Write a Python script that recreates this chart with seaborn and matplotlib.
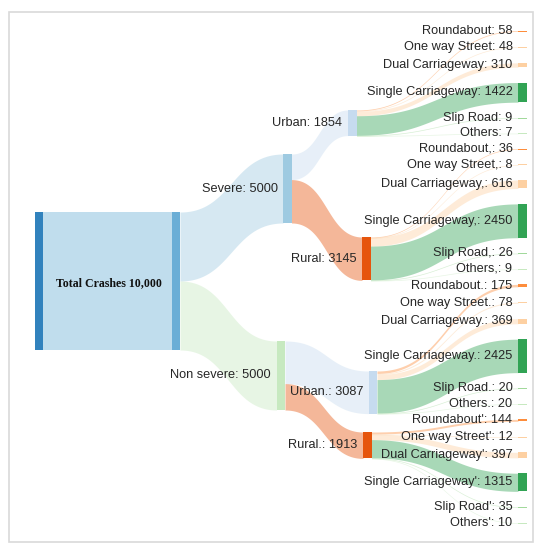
import numpy as np
import matplotlib
matplotlib.use("Agg")
import matplotlib.pyplot as plt
import seaborn as sns

# ---- data ----
total_label = "Total Crashes 10,000"
total_crashes = 10000

severity = ["Severe", "Non severe"]
severity_counts = [5000, 5000]

areas = ["Urban", "Rural", "Urban.", "Rural."]
area_parent = ["Severe", "Severe", "Non severe", "Non severe"]
area_counts = [1854, 3145, 3087, 1913]

road_types = ["Roundabout", "One way Street", "Dual Carriageway",
              "Single Carriageway", "Slip Road", "Others"]
road_suffix = ["", ",", ".", "'"]   # one per area, as in the source labels
road_counts = [
    [58, 48, 310, 1422, 9, 7],
    [36, 8, 616, 2450, 26, 9],
    [175, 78, 369, 2425, 20, 20],
    [144, 12, 397, 1315, 35, 10],
]

# ---- layout / style ----
px_per_crash = 138 / total_crashes
node_w = 8.5
total_x, hub_x, col_top = 34.5, 171.5, 212
severity_x = [283, 276.5]
severity_top = [154, 341]
area_x = [348, 362, 368.5, 363]
area_top = [110, 237, 371, 432]
leaf_x, leaf_start, leaf_gap = 518, 30.6, 15.4

pal = sns.color_palette(["#3182bd", "#6baed6", "#9ecae1", "#c7e9c0",
                         "#c6dbef", "#e6550d"])
road_colors = ["#fd8d3c", "#fdd0a2", "#fdd0a2", "#31a354", "#a1d99b", "#c7e9c0"]
link_alpha = 0.42
text_color = "#262626"

sns.set_theme(style="white")
plt.rcParams["font.family"] = ["Liberation Sans", "DejaVu Sans"]

# nodes: name -> dict(x, top, h, color)
nodes = {}
nodes["__total"] = dict(x=total_x, top=col_top, h=total_crashes * px_per_crash, color=pal[0])
nodes["__hub"] = dict(x=hub_x, top=col_top, h=total_crashes * px_per_crash, color=pal[1])
for i, name in enumerate(severity):
    nodes[name] = dict(x=severity_x[i], top=severity_top[i],
                       h=severity_counts[i] * px_per_crash, color=pal[2 + i])
for i, name in enumerate(areas):
    nodes[name] = dict(x=area_x[i], top=area_top[i], h=area_counts[i] * px_per_crash,
                       color=pal[4] if name.startswith("Urban") else pal[5])

links = [("__total", "__hub", total_crashes)]
for i, name in enumerate(severity):
    links.append(("__hub", name, severity_counts[i]))
for i, name in enumerate(areas):
    links.append((area_parent[i], name, area_counts[i]))

y = leaf_start
for a, area in enumerate(areas):
    for r, road in enumerate(road_types):
        leaf = road + road_suffix[a]
        h = road_counts[a][r] * px_per_crash
        nodes[leaf] = dict(x=leaf_x, top=y, h=h, color=road_colors[r])
        links.append((area, leaf, road_counts[a][r]))
        y += h + leaf_gap

fig = plt.figure(figsize=(5.41, 5.50), dpi=100)
ax = fig.add_axes([0, 0, 1, 1])
ax.set_xlim(0, 541)
ax.set_ylim(550, 0)
ax.axis("off")

# offsets of each link inside its source and target nodes
out_off, in_off = {}, {}
src_used = {k: 0.0 for k in nodes}
tgt_used = {k: 0.0 for k in nodes}
for s, t, v in sorted(links, key=lambda l: (nodes[l[0]]["top"], nodes[l[1]]["top"])):
    out_off[(s, t)] = src_used[s]
    src_used[s] += v * px_per_crash
for s, t, v in sorted(links, key=lambda l: (nodes[l[1]]["top"], nodes[l[0]]["top"])):
    in_off[(s, t)] = tgt_used[t]
    tgt_used[t] += v * px_per_crash

tt = np.linspace(0, 1, 80)
for s, t, v in links:
    ns, nt = nodes[s], nodes[t]
    w = v * px_per_crash
    x0, x1 = ns["x"] + node_w, nt["x"]
    y0 = ns["top"] + out_off[(s, t)]
    y1 = nt["top"] + in_off[(s, t)]
    xm = (x0 + x1) / 2
    bx = (1 - tt) ** 3 * x0 + 3 * (1 - tt) ** 2 * tt * xm + 3 * (1 - tt) * tt ** 2 * xm + tt ** 3 * x1
    by = ((1 - tt) ** 3 + 3 * (1 - tt) ** 2 * tt) * y0 + (3 * (1 - tt) * tt ** 2 + tt ** 3) * y1
    ax.fill_between(bx, by, by + max(w, 0.7), color=nt["color"], alpha=link_alpha,
                    linewidth=0)

for name, n in nodes.items():
    ax.bar(n["x"], max(n["h"], 1.0), width=node_w, bottom=n["top"], align="edge",
           color=n["color"], linewidth=0)

# labels
label_val = dict(zip(severity, severity_counts))
label_val.update(zip(areas, area_counts))
for a, area in enumerate(areas):
    for r, road in enumerate(road_types):
        label_val[road + road_suffix[a]] = road_counts[a][r]
for name, v in label_val.items():
    n = nodes[name]
    ax.text(n["x"] - 5.5, n["top"] + n["h"] / 2, f"{name}: {v}", ha="right",
            va="center", fontsize=9.2, color=text_color)

ax.text((total_x + node_w + hub_x) / 2 + 2, col_top + 71, total_label,
        family=["Liberation Serif", "DejaVu Serif"], fontweight="bold",
        fontsize=8.6, ha="center", va="center", color="#111111")

frame = plt.Rectangle((8.5, 11.5), 524.5, 530.5, fill=False, edgecolor="#d9d9d9",
                      linewidth=1.2)
ax.add_patch(frame)

fig.savefig("out.png", dpi=100)
